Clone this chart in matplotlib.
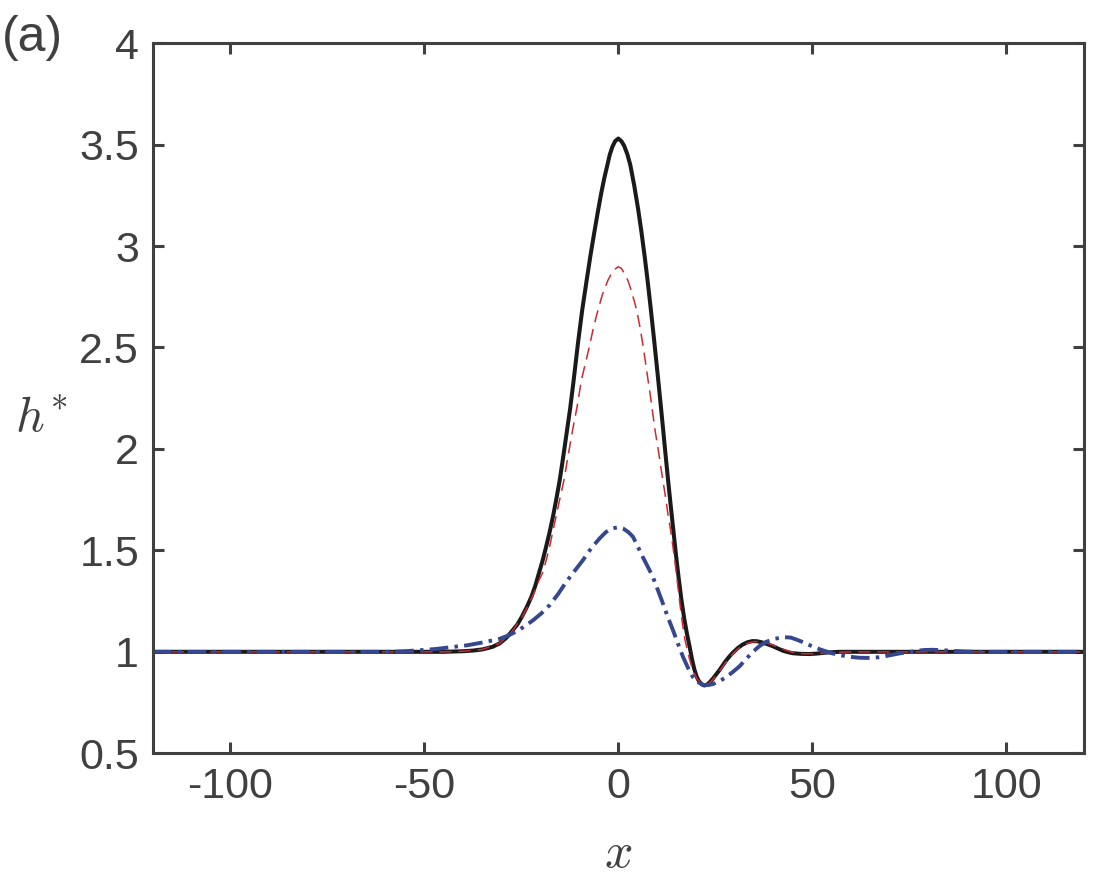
import matplotlib
matplotlib.use('Agg')
import matplotlib.pyplot as plt

plt.rcParams['font.family'] = ['Liberation Sans', 'DejaVu Sans']
plt.rcParams['mathtext.fontset'] = 'cm'
plt.rcParams['axes.unicode_minus'] = False

GRAY = '#404040'

# solid black curve, h*
x_black = [-120, -60, -45, -40, -37.5, -35, -32.5, -30.6, -28.8, -27.2, -26.0,
           -24.8, -23.6, -22.4, -21.4, -20.5, -19.5, -18.6, -17.7, -16.8, -16.0,
           -15.1, -14.2, -13.3, -12.4, -11.5, -10.4, -9.3, -8.2, -7.2, -6.2,
           -5.3, -4.4, -3.6, -2.8, -2.2, -1.5, -0.8, 0,
           0.8, 1.5, 2.3, 3.1, 4.1, 5.1, 5.9, 6.8, 7.5, 8.3, 9.2, 10.2, 10.8,
           11.5, 12.1, 12.8, 13.5, 14.2, 14.9, 15.6, 16.3, 17.0, 17.7, 18.4,
           19.0, 19.6, 20.2, 20.8, 21.5, 22.2, 22.9, 23.6, 24.5, 25.3, 26.1,
           27.0, 27.8, 28.7, 29.5, 30.8, 32, 33.3, 34.6, 35.8, 37, 38.4, 39.8,
           41.2, 42.5, 43.8, 45, 47, 49.3, 51, 53, 55, 57, 120]
h_black = [1.0, 1.0, 1.0, 1.003, 1.006, 1.012, 1.024, 1.041, 1.07, 1.107, 1.135,
           1.175, 1.22, 1.271, 1.325, 1.385, 1.45, 1.518, 1.59, 1.67, 1.75,
           1.846, 1.96, 2.08, 2.20, 2.339, 2.52, 2.684, 2.825, 2.95, 3.065,
           3.165, 3.26, 3.335, 3.40, 3.45, 3.49, 3.517, 3.53,
           3.517, 3.495, 3.455, 3.40, 3.30, 3.185, 3.08, 2.95, 2.84, 2.705, 2.545, 2.36, 2.245,
           2.11, 1.99, 1.855, 1.725, 1.60, 1.475, 1.36, 1.255, 1.165, 1.09, 1.025,
           0.965, 0.915, 0.878, 0.855, 0.840, 0.834, 0.838, 0.85, 0.87, 0.89, 0.91,
           0.935, 0.957, 0.978, 0.995, 1.018, 1.035, 1.047, 1.053, 1.052, 1.047, 1.038, 1.028,
           1.016, 1.005, 0.998, 0.993, 0.99, 0.989, 0.991, 0.995, 0.998, 1.0, 1.0]

# thin red dashed curve
x_red = [-120, -60, -45, -40, -35, -30.6, -27.2, -24.8, -23.6, -22.4, -21.4,
         -20.5, -19.5, -18.6, -17.7, -16.8, -15.9, -15.0, -14.0, -12.9, -11.8,
         -10.6, -9.5, -8.5, -7.5, -6.6, -5.7, -5.0, -4.1, -2.7, -1.3, 0,
         0.8, 1.6, 2.5, 3.2, 3.8, 4.4, 5.0, 5.6, 6.3, 7.0, 7.6, 8.3, 8.9, 9.5,
         10.2, 10.9, 11.5, 12.2, 12.8, 13.5, 14.1, 14.7, 15.2, 15.7, 16.2, 16.7,
         17.2, 17.8, 18.3, 18.9, 19.5, 20.2, 20.8, 21.5, 22.2, 22.9, 23.6, 24.5,
         26.1, 27.8, 29.5, 30.8, 32, 33.5, 35, 36.5, 38, 39.5, 41, 43, 45, 47.5,
         50, 52.5, 55, 60, 120]
h_red = [1.0, 1.0, 1.0, 1.003, 1.012, 1.041, 1.105, 1.172, 1.215, 1.262, 1.305,
         1.35, 1.39, 1.45, 1.518, 1.60, 1.68, 1.76, 1.846, 1.97, 2.09,
         2.21, 2.339, 2.42, 2.50, 2.58, 2.651, 2.70, 2.76, 2.83, 2.88, 2.898,
         2.89, 2.865, 2.83, 2.79, 2.75, 2.71, 2.66, 2.60, 2.52, 2.43, 2.35, 2.26, 2.175, 2.09,
         2.01, 1.92, 1.846, 1.76, 1.68, 1.60, 1.518, 1.43, 1.35, 1.27, 1.19, 1.12,
         1.06, 1.01, 0.97, 0.93, 0.90, 0.87, 0.855, 0.84, 0.833, 0.838, 0.848, 0.866,
         0.905, 0.95, 0.99, 1.013, 1.03, 1.043, 1.05, 1.05, 1.045, 1.036, 1.025, 1.01, 0.997, 0.991,
         0.99, 0.993, 0.997, 1.0, 1.0]

# blue dash-dot curve
x_blue = [-120, -60, -57.5, -55, -51, -47, -43.5, -39, -35, -32.5, -30.6, -28.4,
          -26.3, -24.2, -22.0, -19.8, -17.7, -15.5, -13.4, -11.2, -9.1, -7.0,
          -4.8, -3.2, -1.6, 0, 1.3, 2.6, 3.8, 5.0, 6.3, 7.6, 8.9, 10.2, 11.5,
          12.8, 14.1, 15.4, 16.7, 18.0, 19.2, 20.6, 22.0, 23.2, 24.4, 26.1, 27.8,
          29.5, 31.3, 33.0, 34.7, 36.4, 38.1, 40.5, 42.9, 44.5, 46, 47.7, 49.3,
          52.3, 55.3, 57.6, 60, 62, 64, 66, 68, 70.3, 72.5, 74.8, 77, 79, 81,
          83.5, 86, 89, 92, 120]
h_blue = [1.0, 1.0, 1.001, 1.003, 1.008, 1.014, 1.022, 1.032, 1.046, 1.056, 1.064, 1.08,
          1.10, 1.125, 1.155, 1.19, 1.23, 1.285, 1.345, 1.40, 1.452, 1.51,
          1.559, 1.59, 1.608, 1.614, 1.607, 1.59, 1.567, 1.52, 1.468, 1.42, 1.37, 1.305, 1.239,
          1.17, 1.107, 1.04, 0.975, 0.92, 0.877, 0.85, 0.836, 0.836, 0.841, 0.855, 0.875,
          0.90, 0.929, 0.965, 1.0, 1.028, 1.049, 1.065, 1.072, 1.07, 1.06, 1.047, 1.033,
          1.01, 0.992, 0.982, 0.975, 0.971, 0.97, 0.971, 0.975, 0.984, 0.992, 0.999, 1.005, 1.009, 1.01,
          1.008, 1.005, 1.002, 1.0, 1.0]

fig = plt.figure(figsize=(11.08, 8.81), dpi=100)
ax = fig.add_axes([0.138, 0.145, 0.840, 0.806])

ax.plot(x_black, h_black, color='#1a1a1a', lw=2.9, solid_joinstyle='round')
ax.plot(x_red, h_red, color='#cc2a30', lw=1.1, dashes=(8, 4.5))
ax.plot(x_blue, h_blue, color='#34478f', lw=2.8, dashes=(4.8, 1.6, 0.9, 1.6))

ax.set_xlim(-120, 120)
ax.set_ylim(0.5, 4)
ax.set_xticks([-100, -50, 0, 50, 100])
ax.set_yticks([0.5, 1, 1.5, 2, 2.5, 3, 3.5, 4])
ax.set_yticklabels(['0.5', '1', '1.5', '2', '2.5', '3', '3.5', '4'])

for s in ax.spines.values():
    s.set_linewidth(2.2)
    s.set_color(GRAY)
ax.tick_params(direction='in', length=8, width=2.2, colors=GRAY,
               labelsize=31, top=True, right=True, pad=10)

ax.set_xlabel('$x$', fontsize=36, color=GRAY, va='baseline')
ax.xaxis.set_label_coords(0.5, -0.16)
ax.set_ylabel('$h^{\\!*}$', fontsize=36, color=GRAY, rotation=0, ha='center', va='center')
ax.yaxis.set_label_coords(-0.12, 0.47)

fig.text(0.002, 0.957, '(a)', fontsize=36, color=GRAY, ha='left', va='center')

fig.savefig('out.png', dpi=100)
